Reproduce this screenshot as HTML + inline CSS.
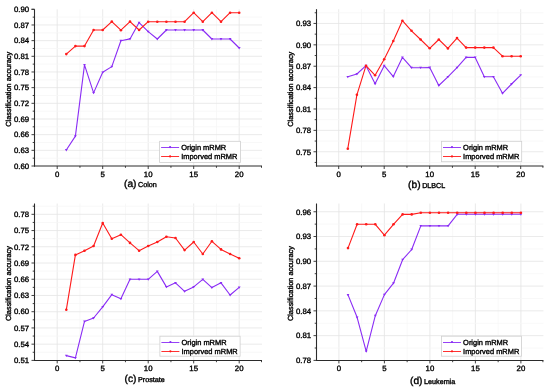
<!DOCTYPE html>
<html><head><meta charset="utf-8"><title>Classification accuracy</title>
<style>
html,body{margin:0;padding:0;background:#fff;}
body{width:550px;height:389px;overflow:hidden;}
svg{display:block;filter:blur(0.3px);}
svg text{font-family:"Liberation Sans", Arial, sans-serif;font-size:7.8px;fill:#000;stroke:#000;stroke-width:0.36px;text-rendering:geometricPrecision;}
svg text.t{font-size:7.38px;}
svg text.tl{font-size:7.45px;}
</style></head><body>
<svg width="550" height="389" viewBox="0 0 550 389">
<rect width="550" height="389" fill="#fff"/>
<g><line x1="57.2" y1="9.3" x2="57.2" y2="166" stroke="#e5e5e5" stroke-width="0.8"/>
<line x1="79.95" y1="9.3" x2="79.95" y2="166" stroke="#f6f6f6" stroke-width="0.8"/>
<line x1="102.7" y1="9.3" x2="102.7" y2="166" stroke="#e5e5e5" stroke-width="0.8"/>
<line x1="125.45" y1="9.3" x2="125.45" y2="166" stroke="#f6f6f6" stroke-width="0.8"/>
<line x1="148.2" y1="9.3" x2="148.2" y2="166" stroke="#e5e5e5" stroke-width="0.8"/>
<line x1="170.95" y1="9.3" x2="170.95" y2="166" stroke="#f6f6f6" stroke-width="0.8"/>
<line x1="193.7" y1="9.3" x2="193.7" y2="166" stroke="#e5e5e5" stroke-width="0.8"/>
<line x1="216.45" y1="9.3" x2="216.45" y2="166" stroke="#f6f6f6" stroke-width="0.8"/>
<line x1="239.2" y1="9.3" x2="239.2" y2="166" stroke="#e5e5e5" stroke-width="0.8"/>
<line x1="34.5" y1="158.16" x2="262" y2="158.16" stroke="#f6f6f6" stroke-width="0.8"/>
<line x1="34.5" y1="150.33" x2="262" y2="150.33" stroke="#e5e5e5" stroke-width="0.8"/>
<line x1="34.5" y1="142.49" x2="262" y2="142.49" stroke="#f6f6f6" stroke-width="0.8"/>
<line x1="34.5" y1="134.66" x2="262" y2="134.66" stroke="#e5e5e5" stroke-width="0.8"/>
<line x1="34.5" y1="126.82" x2="262" y2="126.82" stroke="#f6f6f6" stroke-width="0.8"/>
<line x1="34.5" y1="118.99" x2="262" y2="118.99" stroke="#e5e5e5" stroke-width="0.8"/>
<line x1="34.5" y1="111.16" x2="262" y2="111.16" stroke="#f6f6f6" stroke-width="0.8"/>
<line x1="34.5" y1="103.32" x2="262" y2="103.32" stroke="#e5e5e5" stroke-width="0.8"/>
<line x1="34.5" y1="95.49" x2="262" y2="95.49" stroke="#f6f6f6" stroke-width="0.8"/>
<line x1="34.5" y1="87.65" x2="262" y2="87.65" stroke="#e5e5e5" stroke-width="0.8"/>
<line x1="34.5" y1="79.81" x2="262" y2="79.81" stroke="#f6f6f6" stroke-width="0.8"/>
<line x1="34.5" y1="71.98" x2="262" y2="71.98" stroke="#e5e5e5" stroke-width="0.8"/>
<line x1="34.5" y1="64.14" x2="262" y2="64.14" stroke="#f6f6f6" stroke-width="0.8"/>
<line x1="34.5" y1="56.31" x2="262" y2="56.31" stroke="#e5e5e5" stroke-width="0.8"/>
<line x1="34.5" y1="48.48" x2="262" y2="48.48" stroke="#f6f6f6" stroke-width="0.8"/>
<line x1="34.5" y1="40.64" x2="262" y2="40.64" stroke="#e5e5e5" stroke-width="0.8"/>
<line x1="34.5" y1="32.81" x2="262" y2="32.81" stroke="#f6f6f6" stroke-width="0.8"/>
<line x1="34.5" y1="24.97" x2="262" y2="24.97" stroke="#e5e5e5" stroke-width="0.8"/>
<line x1="34.5" y1="17.14" x2="262" y2="17.14" stroke="#f6f6f6" stroke-width="0.8"/>
<line x1="34.5" y1="9.3" x2="34.5" y2="166.6" stroke="#2b2b2b" stroke-width="1.1"/>
<line x1="34" y1="166" x2="262" y2="166" stroke="#2b2b2b" stroke-width="1"/>
<line x1="31.5" y1="166" x2="34.5" y2="166" stroke="#2b2b2b" stroke-width="0.9"/>
<line x1="32.7" y1="158.16" x2="34.5" y2="158.16" stroke="#2b2b2b" stroke-width="0.9"/>
<line x1="31.5" y1="150.33" x2="34.5" y2="150.33" stroke="#2b2b2b" stroke-width="0.9"/>
<line x1="32.7" y1="142.49" x2="34.5" y2="142.49" stroke="#2b2b2b" stroke-width="0.9"/>
<line x1="31.5" y1="134.66" x2="34.5" y2="134.66" stroke="#2b2b2b" stroke-width="0.9"/>
<line x1="32.7" y1="126.82" x2="34.5" y2="126.82" stroke="#2b2b2b" stroke-width="0.9"/>
<line x1="31.5" y1="118.99" x2="34.5" y2="118.99" stroke="#2b2b2b" stroke-width="0.9"/>
<line x1="32.7" y1="111.16" x2="34.5" y2="111.16" stroke="#2b2b2b" stroke-width="0.9"/>
<line x1="31.5" y1="103.32" x2="34.5" y2="103.32" stroke="#2b2b2b" stroke-width="0.9"/>
<line x1="32.7" y1="95.49" x2="34.5" y2="95.49" stroke="#2b2b2b" stroke-width="0.9"/>
<line x1="31.5" y1="87.65" x2="34.5" y2="87.65" stroke="#2b2b2b" stroke-width="0.9"/>
<line x1="32.7" y1="79.81" x2="34.5" y2="79.81" stroke="#2b2b2b" stroke-width="0.9"/>
<line x1="31.5" y1="71.98" x2="34.5" y2="71.98" stroke="#2b2b2b" stroke-width="0.9"/>
<line x1="32.7" y1="64.14" x2="34.5" y2="64.14" stroke="#2b2b2b" stroke-width="0.9"/>
<line x1="31.5" y1="56.31" x2="34.5" y2="56.31" stroke="#2b2b2b" stroke-width="0.9"/>
<line x1="32.7" y1="48.48" x2="34.5" y2="48.48" stroke="#2b2b2b" stroke-width="0.9"/>
<line x1="31.5" y1="40.64" x2="34.5" y2="40.64" stroke="#2b2b2b" stroke-width="0.9"/>
<line x1="32.7" y1="32.81" x2="34.5" y2="32.81" stroke="#2b2b2b" stroke-width="0.9"/>
<line x1="31.5" y1="24.97" x2="34.5" y2="24.97" stroke="#2b2b2b" stroke-width="0.9"/>
<line x1="32.7" y1="17.14" x2="34.5" y2="17.14" stroke="#2b2b2b" stroke-width="0.9"/>
<line x1="31.5" y1="9.3" x2="34.5" y2="9.3" stroke="#2b2b2b" stroke-width="0.9"/>
<line x1="31.5" y1="9.3" x2="34.5" y2="9.3" stroke="#2b2b2b" stroke-width="0.9"/>
<line x1="57.2" y1="166" x2="57.2" y2="169" stroke="#2b2b2b" stroke-width="0.9"/>
<line x1="79.95" y1="166" x2="79.95" y2="167.8" stroke="#2b2b2b" stroke-width="0.9"/>
<line x1="102.7" y1="166" x2="102.7" y2="169" stroke="#2b2b2b" stroke-width="0.9"/>
<line x1="125.45" y1="166" x2="125.45" y2="167.8" stroke="#2b2b2b" stroke-width="0.9"/>
<line x1="148.2" y1="166" x2="148.2" y2="169" stroke="#2b2b2b" stroke-width="0.9"/>
<line x1="170.95" y1="166" x2="170.95" y2="167.8" stroke="#2b2b2b" stroke-width="0.9"/>
<line x1="193.7" y1="166" x2="193.7" y2="169" stroke="#2b2b2b" stroke-width="0.9"/>
<line x1="216.45" y1="166" x2="216.45" y2="167.8" stroke="#2b2b2b" stroke-width="0.9"/>
<line x1="239.2" y1="166" x2="239.2" y2="169" stroke="#2b2b2b" stroke-width="0.9"/>
<line x1="261.5" y1="166" x2="261.5" y2="167.8" stroke="#2b2b2b" stroke-width="0.9"/>
<text x="29.2" y="168.75" text-anchor="end">0.60</text>
<text x="29.2" y="153.08" text-anchor="end">0.63</text>
<text x="29.2" y="137.41" text-anchor="end">0.66</text>
<text x="29.2" y="121.74" text-anchor="end">0.69</text>
<text x="29.2" y="106.07" text-anchor="end">0.72</text>
<text x="29.2" y="90.4" text-anchor="end">0.75</text>
<text x="29.2" y="74.73" text-anchor="end">0.78</text>
<text x="29.2" y="59.06" text-anchor="end">0.81</text>
<text x="29.2" y="43.39" text-anchor="end">0.84</text>
<text x="29.2" y="27.72" text-anchor="end">0.87</text>
<text x="29.2" y="12.05" text-anchor="end">0.90</text>
<text x="57.2" y="176.8" text-anchor="middle">0</text>
<text x="102.7" y="176.8" text-anchor="middle">5</text>
<text x="148.2" y="176.8" text-anchor="middle">10</text>
<text x="193.7" y="176.8" text-anchor="middle">15</text>
<text x="239.2" y="176.8" text-anchor="middle">20</text>
<text transform="translate(11.2,89.3) rotate(-90)" text-anchor="middle" class="t">Classification accuracy</text>
<text x="124" y="187.3"><tspan font-size="10.2">(a)</tspan><tspan dx="1.6" font-size="7.2">Colon</tspan></text>
<polyline points="66.3,150 75.4,136.1 84.5,64.9 93.6,92.9 102.7,72.3 111.8,66.6 120.9,40.7 130,38.9 139.1,22.6 148.2,31.6 157.3,39 166.4,30 175.5,30 184.6,30 193.7,30 202.8,30 211.9,39 221,39 230.1,39 239.2,48" fill="none" stroke="#8a2cf5" stroke-width="1.1" stroke-linejoin="round"/>
<path d="M64.9,149.1H67.7L66.3,151.4Z" fill="#8a2cf5"/>
<path d="M74,135.2H76.8L75.4,137.5Z" fill="#8a2cf5"/>
<path d="M83.1,64H85.9L84.5,66.3Z" fill="#8a2cf5"/>
<path d="M92.2,92H95L93.6,94.3Z" fill="#8a2cf5"/>
<path d="M101.3,71.4H104.1L102.7,73.7Z" fill="#8a2cf5"/>
<path d="M110.4,65.7H113.2L111.8,68Z" fill="#8a2cf5"/>
<path d="M119.5,39.8H122.3L120.9,42.1Z" fill="#8a2cf5"/>
<path d="M128.6,38H131.4L130,40.3Z" fill="#8a2cf5"/>
<path d="M137.7,21.7H140.5L139.1,24Z" fill="#8a2cf5"/>
<path d="M146.8,30.7H149.6L148.2,33Z" fill="#8a2cf5"/>
<path d="M155.9,38.1H158.7L157.3,40.4Z" fill="#8a2cf5"/>
<path d="M165,29.1H167.8L166.4,31.4Z" fill="#8a2cf5"/>
<path d="M174.1,29.1H176.9L175.5,31.4Z" fill="#8a2cf5"/>
<path d="M183.2,29.1H186L184.6,31.4Z" fill="#8a2cf5"/>
<path d="M192.3,29.1H195.1L193.7,31.4Z" fill="#8a2cf5"/>
<path d="M201.4,29.1H204.2L202.8,31.4Z" fill="#8a2cf5"/>
<path d="M210.5,38.1H213.3L211.9,40.4Z" fill="#8a2cf5"/>
<path d="M219.6,38.1H222.4L221,40.4Z" fill="#8a2cf5"/>
<path d="M228.7,38.1H231.5L230.1,40.4Z" fill="#8a2cf5"/>
<path d="M237.8,47.1H240.6L239.2,49.4Z" fill="#8a2cf5"/>
<polyline points="66.3,54.1 75.4,46.1 84.5,46.1 93.6,30 102.7,30 111.8,21.6 120.9,30.2 130,21.6 139.1,30 148.2,21.7 157.3,21.7 166.4,21.7 175.5,21.7 184.6,21.7 193.7,12.7 202.8,21.7 211.9,12.7 221,21.7 230.1,12.7 239.2,12.7" fill="none" stroke="#ff1a1a" stroke-width="1.1" stroke-linejoin="round"/>
<circle cx="66.3" cy="54.1" r="1.3" fill="#ff1a1a"/>
<circle cx="75.4" cy="46.1" r="1.3" fill="#ff1a1a"/>
<circle cx="84.5" cy="46.1" r="1.3" fill="#ff1a1a"/>
<circle cx="93.6" cy="30" r="1.3" fill="#ff1a1a"/>
<circle cx="102.7" cy="30" r="1.3" fill="#ff1a1a"/>
<circle cx="111.8" cy="21.6" r="1.3" fill="#ff1a1a"/>
<circle cx="120.9" cy="30.2" r="1.3" fill="#ff1a1a"/>
<circle cx="130" cy="21.6" r="1.3" fill="#ff1a1a"/>
<circle cx="139.1" cy="30" r="1.3" fill="#ff1a1a"/>
<circle cx="148.2" cy="21.7" r="1.3" fill="#ff1a1a"/>
<circle cx="157.3" cy="21.7" r="1.3" fill="#ff1a1a"/>
<circle cx="166.4" cy="21.7" r="1.3" fill="#ff1a1a"/>
<circle cx="175.5" cy="21.7" r="1.3" fill="#ff1a1a"/>
<circle cx="184.6" cy="21.7" r="1.3" fill="#ff1a1a"/>
<circle cx="193.7" cy="12.7" r="1.3" fill="#ff1a1a"/>
<circle cx="202.8" cy="21.7" r="1.3" fill="#ff1a1a"/>
<circle cx="211.9" cy="12.7" r="1.3" fill="#ff1a1a"/>
<circle cx="221" cy="21.7" r="1.3" fill="#ff1a1a"/>
<circle cx="230.1" cy="12.7" r="1.3" fill="#ff1a1a"/>
<circle cx="239.2" cy="12.7" r="1.3" fill="#ff1a1a"/>
<rect x="159.6" y="141.3" width="80.8" height="21.2" fill="#fff" stroke="#cfcfcf" stroke-width="0.8"/>
<line x1="161.1" y1="147.5" x2="179.1" y2="147.5" stroke="#8a2cf5" stroke-width="0.9"/>
<circle cx="170.1" cy="147.1" r="1.1" fill="#8a2cf5"/>
<text x="181.2" y="149.8" class="tl">Origin mRMR</text>
<line x1="161.1" y1="156.5" x2="179.1" y2="156.5" stroke="#ff1a1a" stroke-width="0.9"/>
<circle cx="170.1" cy="156.4" r="1.1" fill="#ff1a1a"/>
<text x="181.2" y="159.1" class="tl">Imporved mRMR</text></g>
<g><line x1="338.7" y1="9.2" x2="338.7" y2="166" stroke="#e5e5e5" stroke-width="0.8"/>
<line x1="361.45" y1="9.2" x2="361.45" y2="166" stroke="#f6f6f6" stroke-width="0.8"/>
<line x1="384.2" y1="9.2" x2="384.2" y2="166" stroke="#e5e5e5" stroke-width="0.8"/>
<line x1="406.95" y1="9.2" x2="406.95" y2="166" stroke="#f6f6f6" stroke-width="0.8"/>
<line x1="429.7" y1="9.2" x2="429.7" y2="166" stroke="#e5e5e5" stroke-width="0.8"/>
<line x1="452.45" y1="9.2" x2="452.45" y2="166" stroke="#f6f6f6" stroke-width="0.8"/>
<line x1="475.2" y1="9.2" x2="475.2" y2="166" stroke="#e5e5e5" stroke-width="0.8"/>
<line x1="497.95" y1="9.2" x2="497.95" y2="166" stroke="#f6f6f6" stroke-width="0.8"/>
<line x1="520.7" y1="9.2" x2="520.7" y2="166" stroke="#e5e5e5" stroke-width="0.8"/>
<line x1="316.5" y1="162.44" x2="543.4" y2="162.44" stroke="#f6f6f6" stroke-width="0.8"/>
<line x1="316.5" y1="151.75" x2="543.4" y2="151.75" stroke="#e5e5e5" stroke-width="0.8"/>
<line x1="316.5" y1="141.05" x2="543.4" y2="141.05" stroke="#f6f6f6" stroke-width="0.8"/>
<line x1="316.5" y1="130.36" x2="543.4" y2="130.36" stroke="#e5e5e5" stroke-width="0.8"/>
<line x1="316.5" y1="119.67" x2="543.4" y2="119.67" stroke="#f6f6f6" stroke-width="0.8"/>
<line x1="316.5" y1="108.98" x2="543.4" y2="108.98" stroke="#e5e5e5" stroke-width="0.8"/>
<line x1="316.5" y1="98.29" x2="543.4" y2="98.29" stroke="#f6f6f6" stroke-width="0.8"/>
<line x1="316.5" y1="87.6" x2="543.4" y2="87.6" stroke="#e5e5e5" stroke-width="0.8"/>
<line x1="316.5" y1="76.91" x2="543.4" y2="76.91" stroke="#f6f6f6" stroke-width="0.8"/>
<line x1="316.5" y1="66.22" x2="543.4" y2="66.22" stroke="#e5e5e5" stroke-width="0.8"/>
<line x1="316.5" y1="55.53" x2="543.4" y2="55.53" stroke="#f6f6f6" stroke-width="0.8"/>
<line x1="316.5" y1="44.84" x2="543.4" y2="44.84" stroke="#e5e5e5" stroke-width="0.8"/>
<line x1="316.5" y1="34.15" x2="543.4" y2="34.15" stroke="#f6f6f6" stroke-width="0.8"/>
<line x1="316.5" y1="23.45" x2="543.4" y2="23.45" stroke="#e5e5e5" stroke-width="0.8"/>
<line x1="316.5" y1="12.76" x2="543.4" y2="12.76" stroke="#f6f6f6" stroke-width="0.8"/>
<line x1="316.5" y1="9.2" x2="316.5" y2="166.6" stroke="#2b2b2b" stroke-width="1.1"/>
<line x1="316" y1="166" x2="543.4" y2="166" stroke="#2b2b2b" stroke-width="1"/>
<line x1="314.7" y1="162.44" x2="316.5" y2="162.44" stroke="#2b2b2b" stroke-width="0.9"/>
<line x1="313.5" y1="151.75" x2="316.5" y2="151.75" stroke="#2b2b2b" stroke-width="0.9"/>
<line x1="314.7" y1="141.05" x2="316.5" y2="141.05" stroke="#2b2b2b" stroke-width="0.9"/>
<line x1="313.5" y1="130.36" x2="316.5" y2="130.36" stroke="#2b2b2b" stroke-width="0.9"/>
<line x1="314.7" y1="119.67" x2="316.5" y2="119.67" stroke="#2b2b2b" stroke-width="0.9"/>
<line x1="313.5" y1="108.98" x2="316.5" y2="108.98" stroke="#2b2b2b" stroke-width="0.9"/>
<line x1="314.7" y1="98.29" x2="316.5" y2="98.29" stroke="#2b2b2b" stroke-width="0.9"/>
<line x1="313.5" y1="87.6" x2="316.5" y2="87.6" stroke="#2b2b2b" stroke-width="0.9"/>
<line x1="314.7" y1="76.91" x2="316.5" y2="76.91" stroke="#2b2b2b" stroke-width="0.9"/>
<line x1="313.5" y1="66.22" x2="316.5" y2="66.22" stroke="#2b2b2b" stroke-width="0.9"/>
<line x1="314.7" y1="55.53" x2="316.5" y2="55.53" stroke="#2b2b2b" stroke-width="0.9"/>
<line x1="313.5" y1="44.84" x2="316.5" y2="44.84" stroke="#2b2b2b" stroke-width="0.9"/>
<line x1="314.7" y1="34.15" x2="316.5" y2="34.15" stroke="#2b2b2b" stroke-width="0.9"/>
<line x1="313.5" y1="23.45" x2="316.5" y2="23.45" stroke="#2b2b2b" stroke-width="0.9"/>
<line x1="314.7" y1="12.76" x2="316.5" y2="12.76" stroke="#2b2b2b" stroke-width="0.9"/>
<line x1="338.7" y1="166" x2="338.7" y2="169" stroke="#2b2b2b" stroke-width="0.9"/>
<line x1="361.45" y1="166" x2="361.45" y2="167.8" stroke="#2b2b2b" stroke-width="0.9"/>
<line x1="384.2" y1="166" x2="384.2" y2="169" stroke="#2b2b2b" stroke-width="0.9"/>
<line x1="406.95" y1="166" x2="406.95" y2="167.8" stroke="#2b2b2b" stroke-width="0.9"/>
<line x1="429.7" y1="166" x2="429.7" y2="169" stroke="#2b2b2b" stroke-width="0.9"/>
<line x1="452.45" y1="166" x2="452.45" y2="167.8" stroke="#2b2b2b" stroke-width="0.9"/>
<line x1="475.2" y1="166" x2="475.2" y2="169" stroke="#2b2b2b" stroke-width="0.9"/>
<line x1="497.95" y1="166" x2="497.95" y2="167.8" stroke="#2b2b2b" stroke-width="0.9"/>
<line x1="520.7" y1="166" x2="520.7" y2="169" stroke="#2b2b2b" stroke-width="0.9"/>
<line x1="542.9" y1="166" x2="542.9" y2="167.8" stroke="#2b2b2b" stroke-width="0.9"/>
<text x="311.2" y="154.5" text-anchor="end">0.75</text>
<text x="311.2" y="133.11" text-anchor="end">0.78</text>
<text x="311.2" y="111.73" text-anchor="end">0.81</text>
<text x="311.2" y="90.35" text-anchor="end">0.84</text>
<text x="311.2" y="68.97" text-anchor="end">0.87</text>
<text x="311.2" y="47.59" text-anchor="end">0.90</text>
<text x="311.2" y="26.2" text-anchor="end">0.93</text>
<text x="338.7" y="176.8" text-anchor="middle">0</text>
<text x="384.2" y="176.8" text-anchor="middle">5</text>
<text x="429.7" y="176.8" text-anchor="middle">10</text>
<text x="475.2" y="176.8" text-anchor="middle">15</text>
<text x="520.7" y="176.8" text-anchor="middle">20</text>
<text transform="translate(293.2,89.25) rotate(-90)" text-anchor="middle" class="t">Classification accuracy</text>
<text x="408.1" y="187.7"><tspan font-size="10.2">(b)</tspan><tspan dx="1.6" font-size="7.2">DLBCL</tspan></text>
<polyline points="347.8,76.8 356.9,74 366,65.7 375.1,83.8 384.2,65.7 393.3,76.6 402.4,57.4 411.5,67.7 420.6,67.7 429.7,67.5 438.8,85.5 447.9,76.8 457,67.7 466.1,57.4 475.2,57.4 484.3,76.8 493.4,76.8 502.5,93.3 511.6,84 520.7,75.1" fill="none" stroke="#8a2cf5" stroke-width="1.1" stroke-linejoin="round"/>
<path d="M346.4,75.9H349.2L347.8,78.2Z" fill="#8a2cf5"/>
<path d="M355.5,73.1H358.3L356.9,75.4Z" fill="#8a2cf5"/>
<path d="M364.6,64.8H367.4L366,67.1Z" fill="#8a2cf5"/>
<path d="M373.7,82.9H376.5L375.1,85.2Z" fill="#8a2cf5"/>
<path d="M382.8,64.8H385.6L384.2,67.1Z" fill="#8a2cf5"/>
<path d="M391.9,75.7H394.7L393.3,78Z" fill="#8a2cf5"/>
<path d="M401,56.5H403.8L402.4,58.8Z" fill="#8a2cf5"/>
<path d="M410.1,66.8H412.9L411.5,69.1Z" fill="#8a2cf5"/>
<path d="M419.2,66.8H422L420.6,69.1Z" fill="#8a2cf5"/>
<path d="M428.3,66.6H431.1L429.7,68.9Z" fill="#8a2cf5"/>
<path d="M437.4,84.6H440.2L438.8,86.9Z" fill="#8a2cf5"/>
<path d="M446.5,75.9H449.3L447.9,78.2Z" fill="#8a2cf5"/>
<path d="M455.6,66.8H458.4L457,69.1Z" fill="#8a2cf5"/>
<path d="M464.7,56.5H467.5L466.1,58.8Z" fill="#8a2cf5"/>
<path d="M473.8,56.5H476.6L475.2,58.8Z" fill="#8a2cf5"/>
<path d="M482.9,75.9H485.7L484.3,78.2Z" fill="#8a2cf5"/>
<path d="M492,75.9H494.8L493.4,78.2Z" fill="#8a2cf5"/>
<path d="M501.1,92.4H503.9L502.5,94.7Z" fill="#8a2cf5"/>
<path d="M510.2,83.1H513L511.6,85.4Z" fill="#8a2cf5"/>
<path d="M519.3,74.2H522.1L520.7,76.5Z" fill="#8a2cf5"/>
<polyline points="347.8,148.7 356.9,94.8 366,65.7 375.1,75.3 384.2,59.2 393.3,41 402.4,20.7 411.5,30.8 420.6,39.5 429.7,48.3 438.8,39.5 447.9,48.4 457,38.1 466.1,47.6 475.2,47.6 484.3,47.6 493.4,47.6 502.5,56.2 511.6,56.2 520.7,56.2" fill="none" stroke="#ff1a1a" stroke-width="1.1" stroke-linejoin="round"/>
<circle cx="347.8" cy="148.7" r="1.3" fill="#ff1a1a"/>
<circle cx="356.9" cy="94.8" r="1.3" fill="#ff1a1a"/>
<circle cx="366" cy="65.7" r="1.3" fill="#ff1a1a"/>
<circle cx="375.1" cy="75.3" r="1.3" fill="#ff1a1a"/>
<circle cx="384.2" cy="59.2" r="1.3" fill="#ff1a1a"/>
<circle cx="393.3" cy="41" r="1.3" fill="#ff1a1a"/>
<circle cx="402.4" cy="20.7" r="1.3" fill="#ff1a1a"/>
<circle cx="411.5" cy="30.8" r="1.3" fill="#ff1a1a"/>
<circle cx="420.6" cy="39.5" r="1.3" fill="#ff1a1a"/>
<circle cx="429.7" cy="48.3" r="1.3" fill="#ff1a1a"/>
<circle cx="438.8" cy="39.5" r="1.3" fill="#ff1a1a"/>
<circle cx="447.9" cy="48.4" r="1.3" fill="#ff1a1a"/>
<circle cx="457" cy="38.1" r="1.3" fill="#ff1a1a"/>
<circle cx="466.1" cy="47.6" r="1.3" fill="#ff1a1a"/>
<circle cx="475.2" cy="47.6" r="1.3" fill="#ff1a1a"/>
<circle cx="484.3" cy="47.6" r="1.3" fill="#ff1a1a"/>
<circle cx="493.4" cy="47.6" r="1.3" fill="#ff1a1a"/>
<circle cx="502.5" cy="56.2" r="1.3" fill="#ff1a1a"/>
<circle cx="511.6" cy="56.2" r="1.3" fill="#ff1a1a"/>
<circle cx="520.7" cy="56.2" r="1.3" fill="#ff1a1a"/>
<rect x="441.5" y="141.3" width="80.2" height="20.4" fill="#fff" stroke="#cfcfcf" stroke-width="0.8"/>
<line x1="443" y1="147.5" x2="461" y2="147.5" stroke="#8a2cf5" stroke-width="0.9"/>
<circle cx="452" cy="147.1" r="1.1" fill="#8a2cf5"/>
<text x="463.1" y="149.8" class="tl">Origin mRMR</text>
<line x1="443" y1="156.5" x2="461" y2="156.5" stroke="#ff1a1a" stroke-width="0.9"/>
<circle cx="452" cy="156.4" r="1.1" fill="#ff1a1a"/>
<text x="463.1" y="159.1" class="tl">Imporved mRMR</text></g>
<g><line x1="57.2" y1="203.5" x2="57.2" y2="360.4" stroke="#e5e5e5" stroke-width="0.8"/>
<line x1="79.95" y1="203.5" x2="79.95" y2="360.4" stroke="#f6f6f6" stroke-width="0.8"/>
<line x1="102.7" y1="203.5" x2="102.7" y2="360.4" stroke="#e5e5e5" stroke-width="0.8"/>
<line x1="125.45" y1="203.5" x2="125.45" y2="360.4" stroke="#f6f6f6" stroke-width="0.8"/>
<line x1="148.2" y1="203.5" x2="148.2" y2="360.4" stroke="#e5e5e5" stroke-width="0.8"/>
<line x1="170.95" y1="203.5" x2="170.95" y2="360.4" stroke="#f6f6f6" stroke-width="0.8"/>
<line x1="193.7" y1="203.5" x2="193.7" y2="360.4" stroke="#e5e5e5" stroke-width="0.8"/>
<line x1="216.45" y1="203.5" x2="216.45" y2="360.4" stroke="#f6f6f6" stroke-width="0.8"/>
<line x1="239.2" y1="203.5" x2="239.2" y2="360.4" stroke="#e5e5e5" stroke-width="0.8"/>
<line x1="34.5" y1="352.28" x2="262" y2="352.28" stroke="#f6f6f6" stroke-width="0.8"/>
<line x1="34.5" y1="344.17" x2="262" y2="344.17" stroke="#e5e5e5" stroke-width="0.8"/>
<line x1="34.5" y1="336.05" x2="262" y2="336.05" stroke="#f6f6f6" stroke-width="0.8"/>
<line x1="34.5" y1="327.94" x2="262" y2="327.94" stroke="#e5e5e5" stroke-width="0.8"/>
<line x1="34.5" y1="319.82" x2="262" y2="319.82" stroke="#f6f6f6" stroke-width="0.8"/>
<line x1="34.5" y1="311.71" x2="262" y2="311.71" stroke="#e5e5e5" stroke-width="0.8"/>
<line x1="34.5" y1="303.59" x2="262" y2="303.59" stroke="#f6f6f6" stroke-width="0.8"/>
<line x1="34.5" y1="295.48" x2="262" y2="295.48" stroke="#e5e5e5" stroke-width="0.8"/>
<line x1="34.5" y1="287.36" x2="262" y2="287.36" stroke="#f6f6f6" stroke-width="0.8"/>
<line x1="34.5" y1="279.24" x2="262" y2="279.24" stroke="#e5e5e5" stroke-width="0.8"/>
<line x1="34.5" y1="271.13" x2="262" y2="271.13" stroke="#f6f6f6" stroke-width="0.8"/>
<line x1="34.5" y1="263.01" x2="262" y2="263.01" stroke="#e5e5e5" stroke-width="0.8"/>
<line x1="34.5" y1="254.9" x2="262" y2="254.9" stroke="#f6f6f6" stroke-width="0.8"/>
<line x1="34.5" y1="246.78" x2="262" y2="246.78" stroke="#e5e5e5" stroke-width="0.8"/>
<line x1="34.5" y1="238.67" x2="262" y2="238.67" stroke="#f6f6f6" stroke-width="0.8"/>
<line x1="34.5" y1="230.55" x2="262" y2="230.55" stroke="#e5e5e5" stroke-width="0.8"/>
<line x1="34.5" y1="222.44" x2="262" y2="222.44" stroke="#f6f6f6" stroke-width="0.8"/>
<line x1="34.5" y1="214.32" x2="262" y2="214.32" stroke="#e5e5e5" stroke-width="0.8"/>
<line x1="34.5" y1="206.21" x2="262" y2="206.21" stroke="#f6f6f6" stroke-width="0.8"/>
<line x1="34.5" y1="203.5" x2="34.5" y2="361" stroke="#2b2b2b" stroke-width="1.1"/>
<line x1="34" y1="360.5" x2="262" y2="360.5" stroke="#2b2b2b" stroke-width="1"/>
<line x1="31.5" y1="360.4" x2="34.5" y2="360.4" stroke="#2b2b2b" stroke-width="0.9"/>
<line x1="32.7" y1="352.28" x2="34.5" y2="352.28" stroke="#2b2b2b" stroke-width="0.9"/>
<line x1="31.5" y1="344.17" x2="34.5" y2="344.17" stroke="#2b2b2b" stroke-width="0.9"/>
<line x1="32.7" y1="336.05" x2="34.5" y2="336.05" stroke="#2b2b2b" stroke-width="0.9"/>
<line x1="31.5" y1="327.94" x2="34.5" y2="327.94" stroke="#2b2b2b" stroke-width="0.9"/>
<line x1="32.7" y1="319.82" x2="34.5" y2="319.82" stroke="#2b2b2b" stroke-width="0.9"/>
<line x1="31.5" y1="311.71" x2="34.5" y2="311.71" stroke="#2b2b2b" stroke-width="0.9"/>
<line x1="32.7" y1="303.59" x2="34.5" y2="303.59" stroke="#2b2b2b" stroke-width="0.9"/>
<line x1="31.5" y1="295.48" x2="34.5" y2="295.48" stroke="#2b2b2b" stroke-width="0.9"/>
<line x1="32.7" y1="287.36" x2="34.5" y2="287.36" stroke="#2b2b2b" stroke-width="0.9"/>
<line x1="31.5" y1="279.24" x2="34.5" y2="279.24" stroke="#2b2b2b" stroke-width="0.9"/>
<line x1="32.7" y1="271.13" x2="34.5" y2="271.13" stroke="#2b2b2b" stroke-width="0.9"/>
<line x1="31.5" y1="263.01" x2="34.5" y2="263.01" stroke="#2b2b2b" stroke-width="0.9"/>
<line x1="32.7" y1="254.9" x2="34.5" y2="254.9" stroke="#2b2b2b" stroke-width="0.9"/>
<line x1="31.5" y1="246.78" x2="34.5" y2="246.78" stroke="#2b2b2b" stroke-width="0.9"/>
<line x1="32.7" y1="238.67" x2="34.5" y2="238.67" stroke="#2b2b2b" stroke-width="0.9"/>
<line x1="31.5" y1="230.55" x2="34.5" y2="230.55" stroke="#2b2b2b" stroke-width="0.9"/>
<line x1="32.7" y1="222.44" x2="34.5" y2="222.44" stroke="#2b2b2b" stroke-width="0.9"/>
<line x1="31.5" y1="214.32" x2="34.5" y2="214.32" stroke="#2b2b2b" stroke-width="0.9"/>
<line x1="32.7" y1="206.21" x2="34.5" y2="206.21" stroke="#2b2b2b" stroke-width="0.9"/>
<line x1="57.2" y1="360.4" x2="57.2" y2="363.4" stroke="#2b2b2b" stroke-width="0.9"/>
<line x1="79.95" y1="360.4" x2="79.95" y2="362.2" stroke="#2b2b2b" stroke-width="0.9"/>
<line x1="102.7" y1="360.4" x2="102.7" y2="363.4" stroke="#2b2b2b" stroke-width="0.9"/>
<line x1="125.45" y1="360.4" x2="125.45" y2="362.2" stroke="#2b2b2b" stroke-width="0.9"/>
<line x1="148.2" y1="360.4" x2="148.2" y2="363.4" stroke="#2b2b2b" stroke-width="0.9"/>
<line x1="170.95" y1="360.4" x2="170.95" y2="362.2" stroke="#2b2b2b" stroke-width="0.9"/>
<line x1="193.7" y1="360.4" x2="193.7" y2="363.4" stroke="#2b2b2b" stroke-width="0.9"/>
<line x1="216.45" y1="360.4" x2="216.45" y2="362.2" stroke="#2b2b2b" stroke-width="0.9"/>
<line x1="239.2" y1="360.4" x2="239.2" y2="363.4" stroke="#2b2b2b" stroke-width="0.9"/>
<line x1="261.5" y1="360.4" x2="261.5" y2="362.2" stroke="#2b2b2b" stroke-width="0.9"/>
<text x="29.2" y="363.15" text-anchor="end">0.51</text>
<text x="29.2" y="346.92" text-anchor="end">0.54</text>
<text x="29.2" y="330.69" text-anchor="end">0.57</text>
<text x="29.2" y="314.46" text-anchor="end">0.60</text>
<text x="29.2" y="298.23" text-anchor="end">0.63</text>
<text x="29.2" y="281.99" text-anchor="end">0.66</text>
<text x="29.2" y="265.76" text-anchor="end">0.69</text>
<text x="29.2" y="249.53" text-anchor="end">0.72</text>
<text x="29.2" y="233.3" text-anchor="end">0.75</text>
<text x="29.2" y="217.07" text-anchor="end">0.78</text>
<text x="57.2" y="371.2" text-anchor="middle">0</text>
<text x="102.7" y="371.2" text-anchor="middle">5</text>
<text x="148.2" y="371.2" text-anchor="middle">10</text>
<text x="193.7" y="371.2" text-anchor="middle">15</text>
<text x="239.2" y="371.2" text-anchor="middle">20</text>
<text transform="translate(11.2,283.6) rotate(-90)" text-anchor="middle" class="t">Classification accuracy</text>
<text x="124.6" y="381.8"><tspan font-size="10.2">(c)</tspan><tspan dx="1.6" font-size="7.2">Prostate</tspan></text>
<polyline points="66.3,355.6 75.4,357.9 84.5,321.4 93.6,318 102.7,306.8 111.8,294.7 120.9,298.8 130,279.3 139.1,279.3 148.2,279.3 157.3,271.4 166.4,286.9 175.5,282.8 184.6,291.3 193.7,286.9 202.8,279.3 211.9,287.6 221,282.8 230.1,295 239.2,287.4" fill="none" stroke="#8a2cf5" stroke-width="1.1" stroke-linejoin="round"/>
<path d="M64.9,354.7H67.7L66.3,357Z" fill="#8a2cf5"/>
<path d="M74,357H76.8L75.4,359.3Z" fill="#8a2cf5"/>
<path d="M83.1,320.5H85.9L84.5,322.8Z" fill="#8a2cf5"/>
<path d="M92.2,317.1H95L93.6,319.4Z" fill="#8a2cf5"/>
<path d="M101.3,305.9H104.1L102.7,308.2Z" fill="#8a2cf5"/>
<path d="M110.4,293.8H113.2L111.8,296.1Z" fill="#8a2cf5"/>
<path d="M119.5,297.9H122.3L120.9,300.2Z" fill="#8a2cf5"/>
<path d="M128.6,278.4H131.4L130,280.7Z" fill="#8a2cf5"/>
<path d="M137.7,278.4H140.5L139.1,280.7Z" fill="#8a2cf5"/>
<path d="M146.8,278.4H149.6L148.2,280.7Z" fill="#8a2cf5"/>
<path d="M155.9,270.5H158.7L157.3,272.8Z" fill="#8a2cf5"/>
<path d="M165,286H167.8L166.4,288.3Z" fill="#8a2cf5"/>
<path d="M174.1,281.9H176.9L175.5,284.2Z" fill="#8a2cf5"/>
<path d="M183.2,290.4H186L184.6,292.7Z" fill="#8a2cf5"/>
<path d="M192.3,286H195.1L193.7,288.3Z" fill="#8a2cf5"/>
<path d="M201.4,278.4H204.2L202.8,280.7Z" fill="#8a2cf5"/>
<path d="M210.5,286.7H213.3L211.9,289Z" fill="#8a2cf5"/>
<path d="M219.6,281.9H222.4L221,284.2Z" fill="#8a2cf5"/>
<path d="M228.7,294.1H231.5L230.1,296.4Z" fill="#8a2cf5"/>
<path d="M237.8,286.5H240.6L239.2,288.8Z" fill="#8a2cf5"/>
<polyline points="66.3,309.8 75.4,254.9 84.5,250.7 93.6,246 102.7,223 111.8,238.8 120.9,234.7 130,242.9 139.1,250.7 148.2,246 157.3,242 166.4,236.7 175.5,238 184.6,250.1 193.7,242 202.8,254 211.9,241.3 221,249.4 230.1,254 239.2,258.2" fill="none" stroke="#ff1a1a" stroke-width="1.1" stroke-linejoin="round"/>
<circle cx="66.3" cy="309.8" r="1.3" fill="#ff1a1a"/>
<circle cx="75.4" cy="254.9" r="1.3" fill="#ff1a1a"/>
<circle cx="84.5" cy="250.7" r="1.3" fill="#ff1a1a"/>
<circle cx="93.6" cy="246" r="1.3" fill="#ff1a1a"/>
<circle cx="102.7" cy="223" r="1.3" fill="#ff1a1a"/>
<circle cx="111.8" cy="238.8" r="1.3" fill="#ff1a1a"/>
<circle cx="120.9" cy="234.7" r="1.3" fill="#ff1a1a"/>
<circle cx="130" cy="242.9" r="1.3" fill="#ff1a1a"/>
<circle cx="139.1" cy="250.7" r="1.3" fill="#ff1a1a"/>
<circle cx="148.2" cy="246" r="1.3" fill="#ff1a1a"/>
<circle cx="157.3" cy="242" r="1.3" fill="#ff1a1a"/>
<circle cx="166.4" cy="236.7" r="1.3" fill="#ff1a1a"/>
<circle cx="175.5" cy="238" r="1.3" fill="#ff1a1a"/>
<circle cx="184.6" cy="250.1" r="1.3" fill="#ff1a1a"/>
<circle cx="193.7" cy="242" r="1.3" fill="#ff1a1a"/>
<circle cx="202.8" cy="254" r="1.3" fill="#ff1a1a"/>
<circle cx="211.9" cy="241.3" r="1.3" fill="#ff1a1a"/>
<circle cx="221" cy="249.4" r="1.3" fill="#ff1a1a"/>
<circle cx="230.1" cy="254" r="1.3" fill="#ff1a1a"/>
<circle cx="239.2" cy="258.2" r="1.3" fill="#ff1a1a"/>
<rect x="159.9" y="336.2" width="80.2" height="20" fill="#fff" stroke="#cfcfcf" stroke-width="0.8"/>
<line x1="161.4" y1="342.5" x2="179.4" y2="342.5" stroke="#8a2cf5" stroke-width="0.9"/>
<circle cx="170.4" cy="342" r="1.1" fill="#8a2cf5"/>
<text x="181.5" y="344.7" class="tl">Origin mRMR</text>
<line x1="161.4" y1="351.5" x2="179.4" y2="351.5" stroke="#ff1a1a" stroke-width="0.9"/>
<circle cx="170.4" cy="351.3" r="1.1" fill="#ff1a1a"/>
<text x="181.5" y="354" class="tl">Imporved mRMR</text></g>
<g><line x1="338.9" y1="203.5" x2="338.9" y2="360.4" stroke="#e5e5e5" stroke-width="0.8"/>
<line x1="361.65" y1="203.5" x2="361.65" y2="360.4" stroke="#f6f6f6" stroke-width="0.8"/>
<line x1="384.4" y1="203.5" x2="384.4" y2="360.4" stroke="#e5e5e5" stroke-width="0.8"/>
<line x1="407.15" y1="203.5" x2="407.15" y2="360.4" stroke="#f6f6f6" stroke-width="0.8"/>
<line x1="429.9" y1="203.5" x2="429.9" y2="360.4" stroke="#e5e5e5" stroke-width="0.8"/>
<line x1="452.65" y1="203.5" x2="452.65" y2="360.4" stroke="#f6f6f6" stroke-width="0.8"/>
<line x1="475.4" y1="203.5" x2="475.4" y2="360.4" stroke="#e5e5e5" stroke-width="0.8"/>
<line x1="498.15" y1="203.5" x2="498.15" y2="360.4" stroke="#f6f6f6" stroke-width="0.8"/>
<line x1="520.9" y1="203.5" x2="520.9" y2="360.4" stroke="#e5e5e5" stroke-width="0.8"/>
<line x1="316.5" y1="348.01" x2="543.4" y2="348.01" stroke="#f6f6f6" stroke-width="0.8"/>
<line x1="316.5" y1="335.63" x2="543.4" y2="335.63" stroke="#e5e5e5" stroke-width="0.8"/>
<line x1="316.5" y1="323.24" x2="543.4" y2="323.24" stroke="#f6f6f6" stroke-width="0.8"/>
<line x1="316.5" y1="310.85" x2="543.4" y2="310.85" stroke="#e5e5e5" stroke-width="0.8"/>
<line x1="316.5" y1="298.47" x2="543.4" y2="298.47" stroke="#f6f6f6" stroke-width="0.8"/>
<line x1="316.5" y1="286.08" x2="543.4" y2="286.08" stroke="#e5e5e5" stroke-width="0.8"/>
<line x1="316.5" y1="273.69" x2="543.4" y2="273.69" stroke="#f6f6f6" stroke-width="0.8"/>
<line x1="316.5" y1="261.31" x2="543.4" y2="261.31" stroke="#e5e5e5" stroke-width="0.8"/>
<line x1="316.5" y1="248.92" x2="543.4" y2="248.92" stroke="#f6f6f6" stroke-width="0.8"/>
<line x1="316.5" y1="236.53" x2="543.4" y2="236.53" stroke="#e5e5e5" stroke-width="0.8"/>
<line x1="316.5" y1="224.14" x2="543.4" y2="224.14" stroke="#f6f6f6" stroke-width="0.8"/>
<line x1="316.5" y1="211.76" x2="543.4" y2="211.76" stroke="#e5e5e5" stroke-width="0.8"/>
<line x1="316.5" y1="203.5" x2="316.5" y2="361" stroke="#2b2b2b" stroke-width="1.1"/>
<line x1="316" y1="360.5" x2="543.4" y2="360.5" stroke="#2b2b2b" stroke-width="1"/>
<line x1="313.5" y1="360.4" x2="316.5" y2="360.4" stroke="#2b2b2b" stroke-width="0.9"/>
<line x1="314.7" y1="348.01" x2="316.5" y2="348.01" stroke="#2b2b2b" stroke-width="0.9"/>
<line x1="313.5" y1="335.63" x2="316.5" y2="335.63" stroke="#2b2b2b" stroke-width="0.9"/>
<line x1="314.7" y1="323.24" x2="316.5" y2="323.24" stroke="#2b2b2b" stroke-width="0.9"/>
<line x1="313.5" y1="310.85" x2="316.5" y2="310.85" stroke="#2b2b2b" stroke-width="0.9"/>
<line x1="314.7" y1="298.47" x2="316.5" y2="298.47" stroke="#2b2b2b" stroke-width="0.9"/>
<line x1="313.5" y1="286.08" x2="316.5" y2="286.08" stroke="#2b2b2b" stroke-width="0.9"/>
<line x1="314.7" y1="273.69" x2="316.5" y2="273.69" stroke="#2b2b2b" stroke-width="0.9"/>
<line x1="313.5" y1="261.31" x2="316.5" y2="261.31" stroke="#2b2b2b" stroke-width="0.9"/>
<line x1="314.7" y1="248.92" x2="316.5" y2="248.92" stroke="#2b2b2b" stroke-width="0.9"/>
<line x1="313.5" y1="236.53" x2="316.5" y2="236.53" stroke="#2b2b2b" stroke-width="0.9"/>
<line x1="314.7" y1="224.14" x2="316.5" y2="224.14" stroke="#2b2b2b" stroke-width="0.9"/>
<line x1="313.5" y1="211.76" x2="316.5" y2="211.76" stroke="#2b2b2b" stroke-width="0.9"/>
<line x1="338.9" y1="360.4" x2="338.9" y2="363.4" stroke="#2b2b2b" stroke-width="0.9"/>
<line x1="361.65" y1="360.4" x2="361.65" y2="362.2" stroke="#2b2b2b" stroke-width="0.9"/>
<line x1="384.4" y1="360.4" x2="384.4" y2="363.4" stroke="#2b2b2b" stroke-width="0.9"/>
<line x1="407.15" y1="360.4" x2="407.15" y2="362.2" stroke="#2b2b2b" stroke-width="0.9"/>
<line x1="429.9" y1="360.4" x2="429.9" y2="363.4" stroke="#2b2b2b" stroke-width="0.9"/>
<line x1="452.65" y1="360.4" x2="452.65" y2="362.2" stroke="#2b2b2b" stroke-width="0.9"/>
<line x1="475.4" y1="360.4" x2="475.4" y2="363.4" stroke="#2b2b2b" stroke-width="0.9"/>
<line x1="498.15" y1="360.4" x2="498.15" y2="362.2" stroke="#2b2b2b" stroke-width="0.9"/>
<line x1="520.9" y1="360.4" x2="520.9" y2="363.4" stroke="#2b2b2b" stroke-width="0.9"/>
<line x1="542.9" y1="360.4" x2="542.9" y2="362.2" stroke="#2b2b2b" stroke-width="0.9"/>
<text x="311.2" y="363.15" text-anchor="end">0.78</text>
<text x="311.2" y="338.38" text-anchor="end">0.81</text>
<text x="311.2" y="313.6" text-anchor="end">0.84</text>
<text x="311.2" y="288.83" text-anchor="end">0.87</text>
<text x="311.2" y="264.06" text-anchor="end">0.90</text>
<text x="311.2" y="239.28" text-anchor="end">0.93</text>
<text x="311.2" y="214.51" text-anchor="end">0.96</text>
<text x="338.9" y="371.2" text-anchor="middle">0</text>
<text x="384.4" y="371.2" text-anchor="middle">5</text>
<text x="429.9" y="371.2" text-anchor="middle">10</text>
<text x="475.4" y="371.2" text-anchor="middle">15</text>
<text x="520.9" y="371.2" text-anchor="middle">20</text>
<text transform="translate(293.2,283.6) rotate(-90)" text-anchor="middle" class="t">Classification accuracy</text>
<text x="410" y="383.8"><tspan font-size="10.2">(d)</tspan><tspan dx="1.6" font-size="7.2">Leukemia</tspan></text>
<polyline points="348,294.9 357.1,317.3 366.2,351.4 375.3,315.7 384.4,294.6 393.5,283.2 402.6,259.7 411.7,249.5 420.8,225.9 429.9,225.9 439,225.9 448.1,225.9 457.2,214.3 466.3,214.3 475.4,214.3 484.5,214.3 493.6,214.3 502.7,214.3 511.8,214.3 520.9,214.3" fill="none" stroke="#8a2cf5" stroke-width="1.1" stroke-linejoin="round"/>
<path d="M346.6,294H349.4L348,296.3Z" fill="#8a2cf5"/>
<path d="M355.7,316.4H358.5L357.1,318.7Z" fill="#8a2cf5"/>
<path d="M364.8,350.5H367.6L366.2,352.8Z" fill="#8a2cf5"/>
<path d="M373.9,314.8H376.7L375.3,317.1Z" fill="#8a2cf5"/>
<path d="M383,293.7H385.8L384.4,296Z" fill="#8a2cf5"/>
<path d="M392.1,282.3H394.9L393.5,284.6Z" fill="#8a2cf5"/>
<path d="M401.2,258.8H404L402.6,261.1Z" fill="#8a2cf5"/>
<path d="M410.3,248.6H413.1L411.7,250.9Z" fill="#8a2cf5"/>
<path d="M419.4,225H422.2L420.8,227.3Z" fill="#8a2cf5"/>
<path d="M428.5,225H431.3L429.9,227.3Z" fill="#8a2cf5"/>
<path d="M437.6,225H440.4L439,227.3Z" fill="#8a2cf5"/>
<path d="M446.7,225H449.5L448.1,227.3Z" fill="#8a2cf5"/>
<path d="M455.8,213.4H458.6L457.2,215.7Z" fill="#8a2cf5"/>
<path d="M464.9,213.4H467.7L466.3,215.7Z" fill="#8a2cf5"/>
<path d="M474,213.4H476.8L475.4,215.7Z" fill="#8a2cf5"/>
<path d="M483.1,213.4H485.9L484.5,215.7Z" fill="#8a2cf5"/>
<path d="M492.2,213.4H495L493.6,215.7Z" fill="#8a2cf5"/>
<path d="M501.3,213.4H504.1L502.7,215.7Z" fill="#8a2cf5"/>
<path d="M510.4,213.4H513.2L511.8,215.7Z" fill="#8a2cf5"/>
<path d="M519.5,213.4H522.3L520.9,215.7Z" fill="#8a2cf5"/>
<polyline points="348,248.1 357.1,224.3 366.2,224.3 375.3,224.3 384.4,235.2 393.5,224.3 402.6,214.4 411.7,214.4 420.8,212.7 429.9,212.7 439,212.7 448.1,212.7 457.2,212.7 466.3,212.7 475.4,212.7 484.5,212.7 493.6,212.7 502.7,212.7 511.8,212.7 520.9,212.7" fill="none" stroke="#ff1a1a" stroke-width="1.1" stroke-linejoin="round"/>
<circle cx="348" cy="248.1" r="1.3" fill="#ff1a1a"/>
<circle cx="357.1" cy="224.3" r="1.3" fill="#ff1a1a"/>
<circle cx="366.2" cy="224.3" r="1.3" fill="#ff1a1a"/>
<circle cx="375.3" cy="224.3" r="1.3" fill="#ff1a1a"/>
<circle cx="384.4" cy="235.2" r="1.3" fill="#ff1a1a"/>
<circle cx="393.5" cy="224.3" r="1.3" fill="#ff1a1a"/>
<circle cx="402.6" cy="214.4" r="1.3" fill="#ff1a1a"/>
<circle cx="411.7" cy="214.4" r="1.3" fill="#ff1a1a"/>
<circle cx="420.8" cy="212.7" r="1.3" fill="#ff1a1a"/>
<circle cx="429.9" cy="212.7" r="1.3" fill="#ff1a1a"/>
<circle cx="439" cy="212.7" r="1.3" fill="#ff1a1a"/>
<circle cx="448.1" cy="212.7" r="1.3" fill="#ff1a1a"/>
<circle cx="457.2" cy="212.7" r="1.3" fill="#ff1a1a"/>
<circle cx="466.3" cy="212.7" r="1.3" fill="#ff1a1a"/>
<circle cx="475.4" cy="212.7" r="1.3" fill="#ff1a1a"/>
<circle cx="484.5" cy="212.7" r="1.3" fill="#ff1a1a"/>
<circle cx="493.6" cy="212.7" r="1.3" fill="#ff1a1a"/>
<circle cx="502.7" cy="212.7" r="1.3" fill="#ff1a1a"/>
<circle cx="511.8" cy="212.7" r="1.3" fill="#ff1a1a"/>
<circle cx="520.9" cy="212.7" r="1.3" fill="#ff1a1a"/>
<rect x="441.5" y="336.2" width="79.9" height="20" fill="#fff" stroke="#cfcfcf" stroke-width="0.8"/>
<line x1="443" y1="342.5" x2="461" y2="342.5" stroke="#8a2cf5" stroke-width="0.9"/>
<circle cx="452" cy="342" r="1.1" fill="#8a2cf5"/>
<text x="463.1" y="344.7" class="tl">Origin mRMR</text>
<line x1="443" y1="351.5" x2="461" y2="351.5" stroke="#ff1a1a" stroke-width="0.9"/>
<circle cx="452" cy="351.3" r="1.1" fill="#ff1a1a"/>
<text x="463.1" y="354" class="tl">Imporved mRMR</text></g>
</svg>
</body></html>
